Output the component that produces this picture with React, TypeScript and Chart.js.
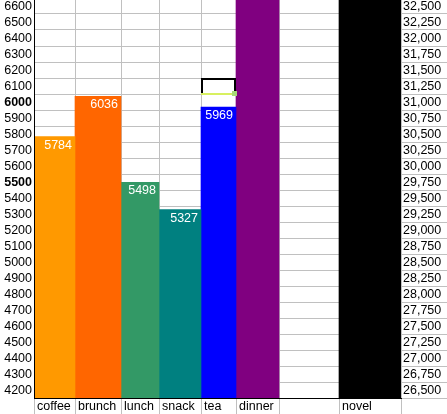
import React, { useEffect, useRef } from "react";
import { Chart, registerables } from "chart.js";

Chart.register(...registerables);

// categories along the bottom row (one column is empty)
const categories = ["coffee", "brunch", "lunch", "snack", "tea", "dinner", "", "novel"];
// bar values; dinner and novel run past the top of the sheet
const values: (number | null)[] = [5784, 6036, 5498, 5327, 5969, 6800, null, 33000];
const valueAxis = ["y", "y", "y", "y", "y", "y", "y", "y1"];
const barColors = ["#ff9900", "#ff6600", "#339966", "#008080", "#0000ff", "#800080", "#ffffff", "#000000"];

const leftTicks = [
  4200, 4300, 4400, 4500, 4600, 4700, 4800, 4900, 5000, 5100, 5200, 5300, 5400,
  5500, 5600, 5700, 5800, 5900, 6000, 6100, 6200, 6300, 6400, 6500, 6600,
];
const rightTicks = [
  26500, 26750, 27000, 27250, 27500, 27750, 28000, 28250, 28500, 28750, 29000,
  29250, 29500, 29750, 30000, 30250, 30500, 30750, 31000, 31250, 31500, 31750,
  32000, 32250, 32500,
];
const boldTicks = [5500, 6000];

// sheet layout: column widths in px, the selected cell
const columnWidths = [41, 46, 38, 42, 35, 43, 60, 62];
const selectedColumn = 4;
const selectedRow = 6100;

const FONT = "'Liberation Sans', Arial, sans-serif";
const GRID = "#c0c0c0";

const columnEdges = columnWidths.reduce<number[]>((acc, w) => [...acc, acc[acc.length - 1] + w], [0]);
const totalWidth = columnEdges[columnEdges.length - 1];

const Y_MIN = 4150;
const Y_MAX = 6637.5;
const Y1_MIN = 26375;
const Y1_MAX = 32593.75;

const noPadding = (s: any) => {
  s.paddingTop = 0;
  s.paddingBottom = 0;
  s.paddingLeft = 0;
  s.paddingRight = 0;
};

const valueLabels = {
  id: "valueLabels",
  afterDatasetsDraw(chart: any) {
    const { ctx, chartArea } = chart;
    ctx.save();
    ctx.font = `12.5px ${FONT}`;
    ctx.fillStyle = "#ffffff";
    ctx.textAlign = "right";
    ctx.textBaseline = "middle";
    chart.data.datasets.forEach((ds: any, i: number) => {
      const bar = chart.getDatasetMeta(i).data[0];
      if (!bar || bar.y < chartArea.top + 4) return;
      ctx.fillText(String(ds.data[0].y), bar.x + bar.width / 2 - 3, bar.y + 8.5);
    });
    ctx.restore();
  },
};

const selectedCell = {
  id: "selectedCell",
  afterDatasetsDraw(chart: any) {
    const { ctx } = chart;
    const x = chart.scales.x;
    const y = chart.scales.y;
    const left = x.getPixelForValue(columnEdges[selectedColumn]) + 1;
    const right = x.getPixelForValue(columnEdges[selectedColumn + 1]) - 1;
    const top = y.getPixelForValue(selectedRow + 50) + 1;
    const bottom = y.getPixelForValue(selectedRow - 50);
    ctx.save();
    ctx.strokeStyle = "#000000";
    ctx.lineWidth = 2;
    ctx.strokeRect(left, top, right - left, bottom - top);
    ctx.fillStyle = "#d8f060";
    ctx.fillRect(left - 1, bottom - 1, right - left + 2, 2);
    ctx.fillStyle = "#a8d878";
    ctx.fillRect(right - 3, bottom - 3, 5, 5);
    ctx.restore();
  },
};

const App = () => {
  const canvasRef = useRef<HTMLCanvasElement>(null);
  const chartRef = useRef<Chart | null>(null);

  useEffect(() => {
    document.body.style.margin = "0";
    if (!canvasRef.current) return;

    chartRef.current?.destroy();

    const datasets = categories
      .map((name, i) => ({
        label: name,
        data: [{ x: (columnEdges[i] + columnEdges[i + 1]) / 2, y: values[i] }],
        backgroundColor: barColors[i],
        borderWidth: 0,
        barThickness: columnWidths[i],
        grouped: false,
        yAxisID: valueAxis[i],
        base: valueAxis[i] === "y1" ? Y1_MIN : Y_MIN,
        clip: 0,
      }))
      .filter((_d, i) => values[i] !== null);

    chartRef.current = new Chart(canvasRef.current, {
      type: "bar",
      data: { datasets: datasets as any },
      options: {
        responsive: true,
        maintainAspectRatio: false,
        animation: false,
        events: [],
        layout: { padding: 0 },
        plugins: {
          legend: { display: false },
          tooltip: { enabled: false },
        },
        scales: {
          x: {
            type: "linear",
            min: 0,
            max: totalWidth,
            offset: false,
            afterBuildTicks: (s: any) => {
              s.ticks = columnEdges.map((v) => ({ value: v }));
            },
            afterFit: (s: any) => {
              s.height = 16;
              noPadding(s);
            },
            grid: { offset: false, color: GRID, drawTicks: true, tickLength: 16 },
            border: { color: "#000000", z: 1 },
            ticks: {
              autoSkip: false,
              maxRotation: 0,
              align: "start",
              labelOffset: 3,
              padding: -15,
              color: "#000000",
              font: { family: FONT, size: 12.5 },
              callback: (_v: any, i: number) => categories[i] ?? "",
            },
          },
          y: {
            type: "linear",
            position: "left",
            min: Y_MIN,
            max: Y_MAX,
            beginAtZero: false,
            afterBuildTicks: (s: any) => {
              s.ticks = leftTicks.map((v) => ({ value: v }));
            },
            afterFit: (s: any) => {
              s.width = 34;
              noPadding(s);
            },
            grid: { offset: true, color: GRID, drawTicks: false },
            border: { color: "#000000", z: 1 },
            ticks: {
              autoSkip: false,
              padding: 2,
              labelOffset: 1,
              color: "#000000",
              font: (ctx: any) => ({
                family: FONT,
                size: 12.5,
                weight: boldTicks.includes(ctx.tick?.value) ? "bold" : "normal",
              }),
              callback: (v: any) => String(v),
            },
          },
          y1: {
            type: "linear",
            position: "right",
            min: Y1_MIN,
            max: Y1_MAX,
            beginAtZero: false,
            afterBuildTicks: (s: any) => {
              s.ticks = rightTicks.map((v) => ({ value: v }));
            },
            afterFit: (s: any) => {
              s.width = 46;
              noPadding(s);
            },
            grid: { offset: true, drawOnChartArea: false, drawTicks: true, tickLength: 46, color: GRID },
            border: { display: false },
            ticks: {
              autoSkip: false,
              padding: -44,
              labelOffset: 1,
              color: "#000000",
              font: { family: FONT, size: 12.5 },
              callback: (v: any) => Number(v).toLocaleString("en-US"),
            },
          },
        },
      } as any,
      plugins: [valueLabels, selectedCell],
    });

    return () => {
      chartRef.current?.destroy();
    };
  }, []);

  return (
    <div style={{ width: 447, height: 414 }}>
      <canvas ref={canvasRef} />
    </div>
  );
};

export default App;
